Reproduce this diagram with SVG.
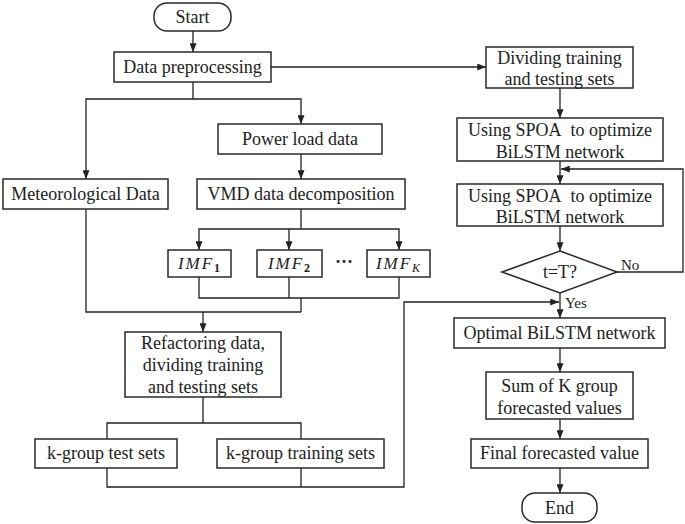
<svg xmlns="http://www.w3.org/2000/svg" width="685" height="524" viewBox="0 0 685 524">
<defs>
<style>
.box{fill:#fff;stroke:#2a2a2a;stroke-width:1.5}
.t{font-family:"Liberation Serif","Times New Roman",serif;font-size:18px;fill:#222;text-anchor:middle}
.m{font-family:"Liberation Serif","Times New Roman",serif;font-size:17px;font-style:italic;fill:#222;text-anchor:middle;letter-spacing:2px}
.sm{font-family:"Liberation Serif","Times New Roman",serif;font-size:15px;fill:#222}
.c{fill:none;stroke:#222;stroke-width:1.3}
.a{marker-end:url(#ah)}
</style>
<marker id="ah" viewBox="0 0 10 8" refX="10" refY="4" markerWidth="9" markerHeight="7" markerUnits="userSpaceOnUse" orient="auto">
<path d="M0,0 L10,4 L0,8 z" fill="#222"/>
</marker>
</defs>
<rect width="685" height="524" fill="#fff"/>

<g id="connectors">
<path class="c a" d="M193,31 V52"/>
<path class="c a" d="M271,67 H486"/>
<path class="c" d="M193,82 V99"/>
<path class="c a" d="M193,99 H86 V179"/>
<path class="c a" d="M193,99 H301 V124"/>
<path class="c a" d="M301,154 V179"/>
<path class="c" d="M301,209 V229"/>
<path class="c a" d="M301,229 H199 V250"/>
<path class="c a" d="M301,229 H399 V250"/>
<path class="c a" d="M289,229 V250"/>
<path class="c" d="M199,277 V298 H399 V277"/>
<path class="c" d="M289,277 V298"/>
<path class="c" d="M301,298 V312"/>
<path class="c" d="M86,209 V312 H301"/>
<path class="c a" d="M203,312 V332"/>
<path class="c" d="M203,397 V423"/>
<path class="c" d="M107,439 V423 H301 V439"/>
<path class="c a" d="M107,468 V487 H404 V302 H559"/>
<path class="c" d="M301,468 V487"/>
<path class="c a" d="M560,88 V118"/>
<path class="c a" d="M560,161 V184"/>
<path class="c a" d="M560,226 V251"/>
<path class="c a" d="M617,272 H683 V169 H561"/>
<path class="c a" d="M560,293 V318"/>
<path class="c a" d="M560,348 V372"/>
<path class="c a" d="M560,419 V439"/>
<path class="c a" d="M560,468 V493"/>
<text class="sm" x="621" y="270">No</text>
<text class="sm" x="565" y="308">Yes</text>
</g>

<g id="start">
<rect class="box" x="154" y="3" width="77" height="28" rx="13"/>
<text class="t" x="192.5" y="23">Start</text>
</g>
<g id="data-preprocessing">
<rect class="box" x="114" y="52" width="157" height="30"/>
<text class="t" x="192.5" y="73">Data preprocessing</text>
</g>
<g id="power-load">
<rect class="box" x="218" y="124" width="164" height="30"/>
<text class="t" x="300" y="145">Power load data</text>
</g>
<g id="meteorological">
<rect class="box" x="3" y="179" width="165" height="30"/>
<text class="t" x="85.5" y="200">Meteorological Data</text>
</g>
<g id="vmd">
<rect class="box" x="197" y="179" width="208" height="30"/>
<text class="t" x="301" y="200">VMD data decomposition</text>
</g>
<g id="imf1">
<rect class="box" x="168" y="250" width="63" height="27"/>
<text class="m" x="200" y="269">IMF<tspan font-size="12" font-style="normal" font-weight="bold" dy="3">1</tspan></text>
</g>
<g id="imf2">
<rect class="box" x="257" y="250" width="65" height="27"/>
<text class="m" x="290" y="269">IMF<tspan font-size="12" font-style="normal" font-weight="bold" dy="3">2</tspan></text>
</g>
<g id="dots">
<text class="t" x="344" y="268" font-weight="bold" font-size="20">···</text>
</g>
<g id="imfk">
<rect class="box" x="367" y="250" width="63" height="27"/>
<text class="m" x="399" y="269">IMF<tspan font-size="12" dy="3">K</tspan></text>
</g>
<g id="refactoring">
<rect class="box" x="125" y="332" width="156" height="65"/>
<text class="t" x="203" y="349">Refactoring data,</text>
<text class="t" x="203" y="371">dividing training</text>
<text class="t" x="203" y="393">and testing sets</text>
</g>
<g id="test-sets">
<rect class="box" x="35" y="439" width="142" height="29"/>
<text class="t" x="106" y="459">k-group test sets</text>
</g>
<g id="training-sets">
<rect class="box" x="217" y="439" width="167" height="29"/>
<text class="t" x="300.5" y="459">k-group training sets</text>
</g>
<g id="dividing">
<rect class="box" x="486" y="47" width="147" height="41"/>
<text class="t" x="559.5" y="64">Dividing training</text>
<text class="t" x="559.5" y="85">and testing sets</text>
</g>
<g id="spoa1">
<rect class="box" x="457" y="118" width="206" height="43"/>
<text class="t" x="560" y="136">Using SPOA&#160; to optimize</text>
<text class="t" x="560" y="158">BiLSTM network</text>
</g>
<g id="spoa2">
<rect class="box" x="457" y="184" width="206" height="42"/>
<text class="t" x="560" y="202">Using SPOA&#160; to optimize</text>
<text class="t" x="560" y="223">BiLSTM network</text>
</g>
<g id="decision">
<polygon class="box" points="560,251 617,272 560,293 502,272"/>
<text class="t" x="560" y="278">t=T?</text>
</g>
<g id="optimal">
<rect class="box" x="454" y="318" width="211" height="30"/>
<text class="t" x="559.5" y="339">Optimal BiLSTM network</text>
</g>
<g id="sum">
<rect class="box" x="486" y="372" width="147" height="47"/>
<text class="t" x="559.5" y="392">Sum of K group</text>
<text class="t" x="559.5" y="414">forecasted values</text>
</g>
<g id="final">
<rect class="box" x="471" y="439" width="177" height="29"/>
<text class="t" x="559.5" y="459">Final forecasted value</text>
</g>
<g id="end">
<rect class="box" x="522" y="493" width="75" height="29" rx="13"/>
<text class="t" x="559.5" y="514">End</text>
</g>
</svg>
